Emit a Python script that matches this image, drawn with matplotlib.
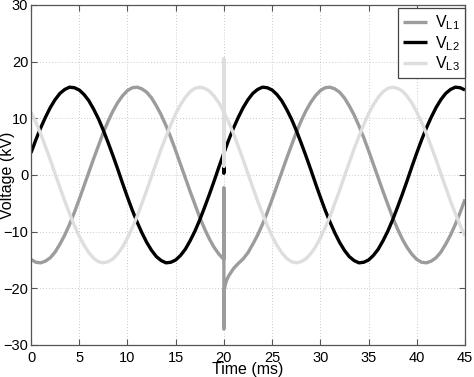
import matplotlib
matplotlib.use("Agg")
import matplotlib.pyplot as plt

plt.rcParams['font.family'] = ['Liberation Sans', 'DejaVu Sans']
plt.rcParams['mathtext.fontset'] = 'custom'
plt.rcParams['mathtext.rm'] = 'Liberation Sans'
plt.rcParams['mathtext.it'] = 'Liberation Sans'

# ---------------- data ----------------
t_pre = [0.0, 0.5, 1.0, 1.5, 2.0, 2.5, 3.0, 3.5, 4.0, 4.5, 5.0, 5.5, 6.0, 6.5,
         7.0, 7.5, 8.0, 8.5, 9.0, 9.5, 10.0, 10.5, 11.0, 11.5, 12.0, 12.5, 13.0,
         13.5, 14.0, 14.5, 15.0, 15.5, 16.0, 16.5, 17.0, 17.5, 18.0, 18.5, 19.0,
         19.5, 20.0]
t_post = [20.5, 21.0, 21.5, 22.0, 22.5, 23.0, 23.5, 24.0, 24.5, 25.0, 25.5, 26.0,
          26.5, 27.0, 27.5, 28.0, 28.5, 29.0, 29.5, 30.0, 30.5, 31.0, 31.5, 32.0,
          32.5, 33.0, 33.5, 34.0, 34.5, 35.0, 35.5, 36.0, 36.5, 37.0, 37.5, 38.0,
          38.5, 39.0, 39.5, 40.0, 40.5, 41.0, 41.5, 42.0, 42.5, 43.0, 43.5, 44.0,
          44.5, 45.0]

vl1_pre = [-14.9, -15.4, -15.5, -15.2, -14.6, -13.6, -12.2, -10.6, -8.7, -6.6,
           -4.3, -1.9, 0.5, 2.9, 5.2, 7.5, 9.5, 11.3, 12.8, 14.0,
           14.9, 15.4, 15.5, 15.2, 14.6, 13.6, 12.2, 10.6, 8.7, 6.6,
           4.3, 1.9, -0.5, -2.9, -5.2, -7.5, -9.5, -11.3, -12.8, -14.0, -14.9]
vl1_post = [-17.8, -16.5, -15.6, -14.8, -13.7, -12.2, -10.6, -8.7, -6.6, -4.3,
            -1.9, 0.5, 2.9, 5.2, 7.5, 9.5, 11.3, 12.8, 14.0, 14.9,
            15.4, 15.5, 15.2, 14.6, 13.6, 12.2, 10.6, 8.7, 6.6, 4.3,
            1.9, -0.5, -2.9, -5.2, -7.5, -9.5, -11.3, -12.8, -14.0, -14.9,
            -15.4, -15.5, -15.2, -14.6, -13.6, -12.2, -10.6, -8.7, -6.6, -4.3]
vl1_event_t = [20.0, 20.0, 20.05, 20.15, 20.3]
vl1_event_v = [-2.3, -27.2, -20.2, -19.3, -18.5]

vl2_pre = [3.9, 6.2, 8.3, 10.2, 11.9, 13.3, 14.4, 15.1, 15.5, 15.4,
           15.0, 14.2, 13.1, 11.6, 9.9, 7.9, 5.7, 3.4, 1.0, -1.5,
           -3.9, -6.2, -8.3, -10.2, -11.9, -13.3, -14.4, -15.1, -15.5, -15.4,
           -15.0, -14.2, -13.1, -11.6, -9.9, -7.9, -5.7, -3.4, -1.0, 1.5, 3.9]
vl2_post = [6.2, 8.3, 10.2, 11.9, 13.3, 14.4, 15.1, 15.5, 15.4, 15.0,
            14.2, 13.1, 11.6, 9.9, 7.9, 5.7, 3.4, 1.0, -1.5, -3.9,
            -6.2, -8.3, -10.2, -11.9, -13.3, -14.4, -15.1, -15.5, -15.4, -15.0,
            -14.2, -13.1, -11.6, -9.9, -7.9, -5.7, -3.4, -1.0, 1.5, 3.9,
            6.2, 8.3, 10.2, 11.9, 13.3, 14.4, 15.1, 15.5, 15.4, 15.0]
vl2_event_t = [20.0, 20.05]
vl2_event_v = [0.3, 4.1]

vl3_pre = [11.1, 9.3, 7.3, 5.0, 2.7, 0.2, -2.2, -4.6, -6.8, -8.9,
           -10.8, -12.4, -13.7, -14.7, -15.3, -15.5, -15.3, -14.8, -13.9, -12.7,
           -11.1, -9.3, -7.3, -5.0, -2.7, -0.2, 2.2, 4.6, 6.8, 8.9,
           10.8, 12.4, 13.7, 14.7, 15.3, 15.5, 15.3, 14.8, 13.9, 12.7, 11.1]
vl3_post = [9.3, 7.3, 5.0, 2.7, 0.2, -2.2, -4.6, -6.8, -8.9, -10.8,
            -12.4, -13.7, -14.7, -15.3, -15.5, -15.3, -14.8, -13.9, -12.7, -11.1,
            -9.3, -7.3, -5.0, -2.7, -0.2, 2.2, 4.6, 6.8, 8.9, 10.8,
            12.4, 13.7, 14.7, 15.3, 15.5, 15.3, 14.8, 13.9, 12.7, 11.1,
            9.3, 7.3, 5.0, 2.7, 0.2, -2.2, -4.6, -6.8, -8.9, -10.8]
vl3_event_t = [20.0, 20.0, 20.05]
vl3_event_v = [20.5, 1.5, 10.9]

labels = [r'V$_{\rm L1}$', r'V$_{\rm L2}$', r'V$_{\rm L3}$']
x_ticks = [0, 5, 10, 15, 20, 25, 30, 35, 40, 45]
y_ticks = [-30, -20, -10, 0, 10, 20, 30]

# ---------------- figure ----------------
fig = plt.figure(figsize=(4.74, 3.77), dpi=100)
ax = fig.add_axes([31 / 474, 32 / 377, 434 / 474, 340 / 377])

series = [
    (vl1_pre, vl1_event_t, vl1_event_v, vl1_post, '#9c9c9c'),
    (vl2_pre, vl2_event_t, vl2_event_v, vl2_post, '#000000'),
    (vl3_pre, vl3_event_t, vl3_event_v, vl3_post, '#dedede'),
]
for (pre, et, ev, post, col), lab in zip(series, labels):
    t = t_pre + et + t_post
    v = pre + ev + post
    ax.plot(t, v, color=col, lw=2.4, label=lab, solid_joinstyle='round',
            solid_capstyle='butt')

ax.set_xlim(0, 45)
ax.set_ylim(-30, 30)
ax.set_xticks(x_ticks)
ax.set_yticks(y_ticks)
ax.grid(True, linestyle=(0, (1, 2.5)), color='#b8b8b8', lw=0.6)
ax.tick_params(direction='in', length=4, width=0.8, color='#555555',
               top=True, right=True, labelsize=10.5)
ax.tick_params(axis='x', pad=4)
ax.tick_params(axis='y', pad=2)
for s in ax.spines.values():
    s.set_color('#555555')
    s.set_linewidth(0.9)

ax.set_xlabel('Time (ms)', fontsize=11.5)
ax.xaxis.set_label_coords(0.5, -0.05)
ax.set_ylabel('Voltage (kV)', fontsize=11.5)
ax.yaxis.set_label_coords(-0.036, 0.5)

leg = ax.legend(loc='upper right', bbox_to_anchor=(1.0, 0.99), fontsize=11.5,
                handlelength=1.5, handletextpad=0.55, labelspacing=0.12,
                borderpad=0.3, borderaxespad=0.0, fancybox=False,
                framealpha=1, edgecolor='#444444')
leg.get_frame().set_linewidth(0.9)

fig.savefig('out.png', dpi=100)
